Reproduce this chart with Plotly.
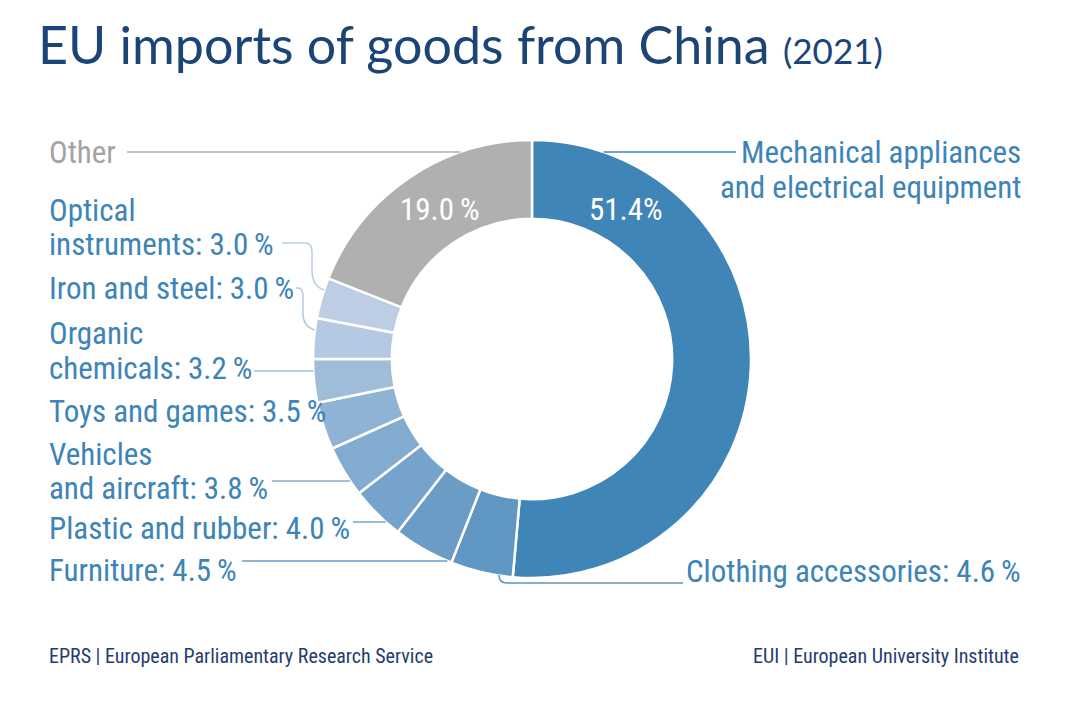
import math
import plotly.graph_objects as go

W, H = 1076, 708

# ---------------- data ----------------
categories = [
    "Mechanical appliances and electrical equipment",
    "Clothing accessories",
    "Furniture",
    "Plastic and rubber",
    "Vehicles and aircraft",
    "Toys and games",
    "Organic chemicals",
    "Iron and steel",
    "Optical instruments",
    "Other",
]
shares = [51.4, 4.6, 4.5, 4.0, 3.8, 3.5, 3.2, 3.0, 3.0, 19.0]
slice_colors = ["#3f85b7", "#5f96c2", "#6a9cc6", "#76a3cb", "#82abd0",
                "#8fb3d5", "#9fbcd9", "#b6c9e2", "#bccde4", "#b1b0b1"]

title_main = "EU imports of goods from China"
title_year = "(2021)"
source_left = "EPRS | European Parliamentary Research Service"
source_right = "EUI | European University Institute"

# ---------------- geometry (layout) ----------------
CX, CY, R = 532, 359, 219
HOLE = 0.64

def px(x):
    return x / W

def py(y):
    return 1 - y / H

LABEL_FONT = "Liberation Sans Narrow, Arial Narrow, Roboto Condensed, DejaVu Sans Condensed, sans-serif"
TITLE_FONT = "Lato, Open Sans, sans-serif"
BLUE = "#3d84b8"
NAVY = "#1b4577"
LS = 31

def pct(v):
    return f"{v:.1f}\u2009%"

fig = go.Figure()
fig.add_trace(go.Pie(
    labels=categories,
    values=shares,
    sort=False,
    direction="clockwise",
    rotation=0,
    hole=HOLE,
    textinfo="none",
    hoverinfo="label+percent",
    marker=dict(colors=slice_colors, line=dict(color="white", width=2.5)),
    domain=dict(x=[px(CX - R), px(CX + R)], y=[py(CY + R), py(CY - R)]),
    showlegend=False,
))

annotations = []
shapes = []

def text(x, y, s, size=LS, color=BLUE, anchor="left", font=LABEL_FONT):
    annotations.append(dict(
        x=px(x), y=py(y), xref="paper", yref="paper", text=s, showarrow=False,
        xanchor=anchor, yanchor="middle", font=dict(family=font, size=size, color=color),
    ))

def edge_x(y, side):
    dy = y - CY
    return CX + side * math.sqrt(max(R * R - dy * dy, 0))

def hline(x0, y, side, color):
    x1 = edge_x(y, side)
    shapes.append(dict(type="line", xref="paper", yref="paper",
                       x0=px(x0), y0=py(y), x1=px(x1), y1=py(y),
                       line=dict(color=color, width=1.5)))

def path(points, color):
    parts = []
    for cmd, coords in points:
        c = " ".join(f"{px(coords[i]):.5f},{py(coords[i+1]):.5f}" for i in range(0, len(coords), 2))
        parts.append(f"{cmd} {c}")
    shapes.append(dict(type="path", xref="paper", yref="paper", path=" ".join(parts),
                       line=dict(color=color, width=1.5)))

cum = [sum(shares[:i]) for i in range(len(shares))]

def slice_point(i, frac, r):
    ang = math.radians((cum[i] + shares[i] * frac) / sum(shares) * 360)
    return CX + r * math.sin(ang), CY - r * math.cos(ang)

# ---- labels ----
# Mechanical (right)
text(1023, 153, "Mechanical appliances", anchor="right")
text(1023, 187, "and electrical equipment", anchor="right")
hline(736, 152, +1, slice_colors[0])

# Clothing accessories (right, hook to bottom)
text(1023, 571, f"{categories[1]}: {pct(shares[1])}", anchor="right")
ex, ey = slice_point(1, 0.22, R)
path([("M", [683, 583]), ("L", [ex + 8, 583]), ("Q", [ex, 583, ex, 575]), ("L", [ex, ey])], slice_colors[1])

# Other
text(47, 152, "Other", color="#a3a3a3")
hline(127, 152, -1, slice_colors[9])

# Optical
text(47, 211, "Optical")
text(47, 244, f"instruments: {pct(shares[8])}")
ox, oy = slice_point(8, 0.7, R)
path([("M", [282, 243]), ("L", [305, 243]), ("Q", [312, 243, 312, 252]),
      ("L", [312, 270]), ("Q", [312, oy - 4, ox, oy])], slice_colors[8])

# Iron and steel
text(47, 288, f"{categories[7]}: {pct(shares[7])}")
ix, iy = slice_point(7, 0.7, R)
path([("M", [296, 288]), ("L", [298, 288]), ("Q", [303, 288, 303, 296]),
      ("L", [303, 314]), ("Q", [303, iy - 4, ix, iy])], slice_colors[7])

# Organic chemicals
text(47, 333, "Organic")
text(47, 368, f"chemicals: {pct(shares[6])}")
hline(254, 371, -1, slice_colors[6])

# Toys and games
text(47, 411, f"{categories[5]}: {pct(shares[5])}")

# Vehicles and aircraft
text(47, 454, "Vehicles")
text(47, 488, f"and aircraft: {pct(shares[4])}")
hline(272, 481, -1, slice_colors[4])

# Plastic and rubber
text(47, 528, f"{categories[3]}: {pct(shares[3])}")
hline(353, 522, -1, slice_colors[3])

# Furniture
text(47, 570, f"{categories[2]}: {pct(shares[2])}")
hline(242, 561, -1, slice_colors[2])

# inside values
text(626, 209, f"{shares[0]:.1f}%", size=31, color="white", anchor="center")
text(440, 209, pct(shares[9]), size=31, color="white", anchor="center")

# title
annotations.append(dict(
    x=px(36), y=py(44), xref="paper", yref="paper", showarrow=False,
    xanchor="left", yanchor="middle",
    text=f"{title_main} <span style='font-size:35px'>{title_year}</span>",
    font=dict(family=TITLE_FONT, size=52, color=NAVY),
))

# footer
text(47, 656, source_left, size=20, color="#1f3d6e")
text(1021, 656, source_right, size=20, color="#1f3d6e", anchor="right")

fig.update_layout(
    width=W, height=H,
    margin=dict(l=0, r=0, t=0, b=0),
    paper_bgcolor="white", plot_bgcolor="white",
    annotations=annotations, shapes=shapes,
    showlegend=False,
)

fig.write_html("out.html")
